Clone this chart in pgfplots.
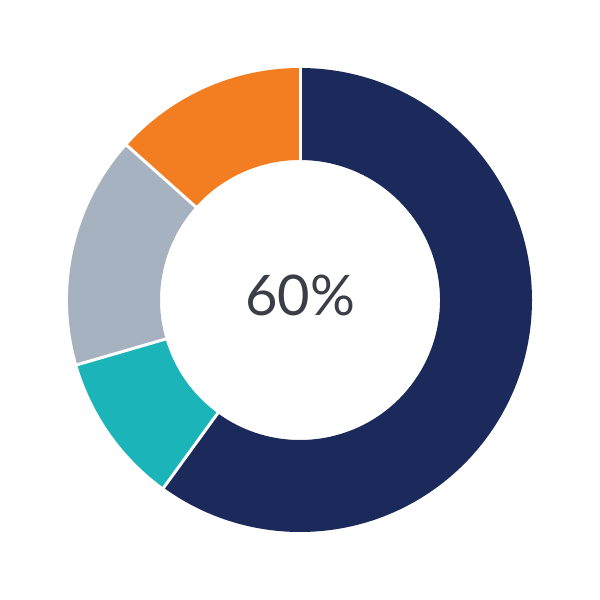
\documentclass[border=0pt]{standalone}
\usepackage{pgfplots}
\usepackage{pgfplotstable}
\pgfplotsset{compat=1.18}
\usepackage{fontspec}
\setmainfont{Lato}

\definecolor{navyc}{HTML}{1B2A5B}
\definecolor{tealc}{HTML}{1BB4B8}
\definecolor{grayc}{HTML}{A7B2C1}
\definecolor{orangec}{HTML}{F37E21}
\definecolor{textc}{HTML}{3A3E47}

% shares in percent, clockwise from the top
\pgfplotstableread{
share colour
60.0 navyc
10.5 tealc
16.1 grayc
13.4 orangec
}\slices

\begin{document}
\begin{tikzpicture}
\begin{axis}[
    hide axis,
    scale only axis,
    width=600pt, height=600pt,
    xmin=-300, xmax=300,
    ymin=-300, ymax=300,
    clip=false,
]
\pgfplotsextra{
  \pgfplotstablegetrowsof{\slices}
  \pgfmathtruncatemacro\nlast{\pgfplotsretval-1}
  \xdef\start{90}
  \begin{scope}[shift={(axis cs:0,0)}]
  \foreach \i in {0,...,\nlast}{
    \pgfplotstablegetelem{\i}{share}\of\slices
    \let\v\pgfplotsretval
    \pgfplotstablegetelem{\i}{colour}\of\slices
    \let\c\pgfplotsretval
    \pgfmathsetmacro\stop{\start-3.6*\v}
    \fill[\c] (\start:232pt) arc[start angle=\start, end angle=\stop, radius=232pt]
      -- (\stop:140pt) arc[start angle=\stop, end angle=\start, radius=140pt] -- cycle;
    \xdef\start{\stop}
  }
  % white gaps between the slices
  \xdef\start{90}
  \foreach \i in {0,...,\nlast}{
    \pgfplotstablegetelem{\i}{share}\of\slices
    \let\v\pgfplotsretval
    \draw[white, line width=3pt] (\start:136pt) -- (\start:236pt);
    \pgfmathsetmacro\stop{\start-3.6*\v}
    \xdef\start{\stop}
  }
  \end{scope}
}
\node[text=textc, font=\fontsize{56}{60}\selectfont, inner sep=0pt] at (axis cs:0,5) {60\%};
\end{axis}
\path (0,0) rectangle (600pt,600pt);
\end{tikzpicture}
\end{document}
